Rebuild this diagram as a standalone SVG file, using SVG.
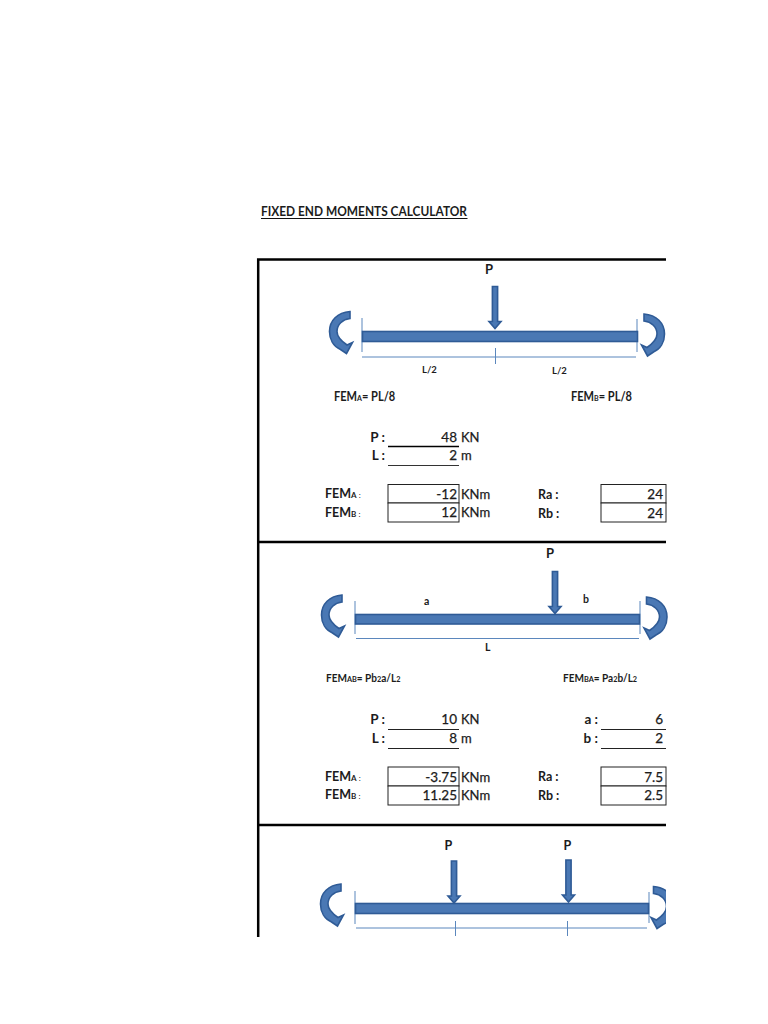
<svg xmlns="http://www.w3.org/2000/svg" width="768" height="1024" viewBox="0 0 768 1024">
<style>
text{font-family:"Lato","Open Sans","Liberation Sans",sans-serif;fill:#1c1c1c}
.t{font-size:13px;font-weight:700}
.f{font-size:12.500px;font-weight:700}
.f2{font-size:11px;font-weight:700}
.s{font-size:8px}
.d{font-size:9.500px;font-weight:700}
.e{font-size:10.500px;font-weight:700}
.v{font-size:13.500px;stroke:#1c1c1c;stroke-width:.25}
.u{font-size:13px;stroke:#1c1c1c;stroke-width:.25}
.w{font-weight:700;stroke:none}
.r{text-anchor:end}
.l{font-size:13px;font-weight:700}
.beam{fill:#4a78b4;stroke:#2f5b96;stroke-width:1.600}
.dim{stroke:#5b87bd;stroke-width:1;fill:none}
.frame{stroke:#000;stroke-width:2.500;fill:none}
.box{fill:#fff;stroke:#222;stroke-width:1}
.ul{stroke:#222;stroke-width:1}
</style>
<defs>
<path id="mom" class="beam" d="M20.500,0C8,1 0,9 0,20C0,28 4,35 11,38L17,42L23,31L17.500,33.500C11,29 7.500,25 7.500,20C7.500,13 13,8 20.500,7Z"/>
<path id="down" class="beam" d="M-2.600,0H2.600V35H6L0,42L-6,35H-2.600Z"/>
<clipPath id="pg"><rect x="0" y="0" width="666" height="937"/></clipPath>
</defs>
<rect width="768" height="1024" fill="#fff"/>

<g id="title">
<text x="261" y="215.500" class="t" textLength="206" lengthAdjust="spacingAndGlyphs">FIXED END MOMENTS CALCULATOR</text>
<line x1="261" y1="218.500" x2="467.500" y2="218.500" stroke="#111" stroke-width="1"/>
</g>

<g id="frame">
<path class="frame" d="M666,259.500H258.200V937"/>
<line class="frame" x1="258" y1="542" x2="666" y2="542"/>
<line class="frame" x1="258" y1="825" x2="666" y2="825"/>
</g>

<g id="connectors" clip-path="url(#pg)">
<g class="dim">
<path d="M362,318V352M637,319V352M362,357H636M495.500,348V364"/>
<path d="M355,601V634M640,601V634M356,638.500H639"/>
<path d="M355,891V924M649,892V923M356,928H647M455.500,921V936M567.500,921V936"/>
</g>
</g>

<g id="beam1">
<rect class="beam" x="362.500" y="331.500" width="275" height="10"/>
<use href="#down" x="495" y="286.500"/>
<use href="#mom" x="329.500" y="311.500"/>
<use href="#mom" transform="translate(664.500,314) scale(-1,1)"/>
</g>
<g id="beam2">
<rect class="beam" x="355.500" y="614.500" width="284" height="9.500"/>
<use href="#down" x="555" y="571.500"/>
<use href="#mom" x="321.500" y="595"/>
<use href="#mom" transform="translate(667,597) scale(-1,1)"/>
</g>
<g id="beam3" clip-path="url(#pg)">
<rect class="beam" x="355.500" y="903.500" width="293" height="10"/>
<use href="#down" x="454" y="861"/>
<use href="#down" x="568.500" y="860"/>
<use href="#mom" x="320.500" y="884"/>
<use href="#mom" transform="translate(674,886.500) scale(-1,1)"/>
</g>

<g id="panel1-labels">
<text x="485" y="274" class="l">P</text>
<text x="422" y="373" class="d">L/2</text>
<text x="552" y="374" class="d">L/2</text>
<text transform="translate(334,401) scale(.885,1)" class="f">FEM<tspan class="s">A</tspan>= PL/8</text>
<text transform="translate(571,401) scale(.885,1)" class="f">FEM<tspan class="s">B</tspan>= PL/8</text>
</g>
<g id="panel1-inputs">
<text x="385" y="442" class="v w r">P :</text>
<text x="385" y="460" class="v w r">L :</text>
<text x="457" y="442" class="v r">48</text>
<text x="457" y="460" class="v r">2</text>
<text x="461" y="442" class="u">KN</text>
<text x="461" y="460" class="u">m</text>
<line x1="388" y1="446.500" x2="459" y2="446.500" stroke="#000" stroke-width="1.600"/>
<line x1="388" y1="465.500" x2="459" y2="465.500" stroke="#333" stroke-width="1"/>
</g>
<g id="panel1-results">
<rect class="box" x="388" y="484.500" width="71" height="18.500"/>
<rect class="box" x="388" y="503" width="71" height="19"/>
<rect class="box" x="601" y="484.500" width="65" height="18.500"/>
<rect class="box" x="601" y="503" width="65" height="19"/>
<text x="325" y="498" class="f">FEM<tspan class="s">A</tspan><tspan class="s" font-weight="400"> :</tspan></text>
<text x="325" y="517" class="f">FEM<tspan class="s">B</tspan><tspan class="s" font-weight="400"> :</tspan></text>
<text x="457" y="499" class="v r">-12</text>
<text x="457" y="517" class="v r">12</text>
<text x="461" y="499" class="u">KNm</text>
<text x="461" y="517" class="u">KNm</text>
<text x="538" y="499" class="f">Ra :</text>
<text x="538" y="518" class="f">Rb :</text>
<text x="663" y="499" class="v r">24</text>
<text x="663" y="518" class="v r">24</text>
</g>

<g id="panel2-labels">
<text x="546" y="558" class="l">P</text>
<text x="424" y="605" class="e">a</text>
<text x="583" y="603" class="e">b</text>
<text x="485" y="651" class="e">L</text>
<text transform="translate(326,682) scale(.914,1)" class="f2">FEM<tspan class="s">AB</tspan>= Pb<tspan class="s">2</tspan>a/L<tspan class="s">2</tspan></text>
<text transform="translate(563,682) scale(.914,1)" class="f2">FEM<tspan class="s">BA</tspan>= Pa<tspan class="s">2</tspan>b/L<tspan class="s">2</tspan></text>
</g>
<g id="panel2-inputs">
<text x="385" y="724" class="v w r">P :</text>
<text x="385" y="743" class="v w r">L :</text>
<text x="457" y="724" class="v r">10</text>
<text x="457" y="743" class="v r">8</text>
<text x="461" y="724" class="u">KN</text>
<text x="461" y="743" class="u">m</text>
<line class="ul" x1="388" y1="729.500" x2="459" y2="729.500"/>
<line class="ul" x1="388" y1="748.500" x2="459" y2="748.500"/>
<text x="598" y="724" class="v w r">a :</text>
<text x="598" y="743" class="v w r">b :</text>
<text x="663" y="724" class="v r">6</text>
<text x="663" y="743" class="v r">2</text>
<line class="ul" x1="601" y1="729.500" x2="666" y2="729.500"/>
<line class="ul" x1="601" y1="748.500" x2="666" y2="748.500"/>
</g>
<g id="panel2-results">
<rect class="box" x="388" y="767" width="71" height="19"/>
<rect class="box" x="388" y="786" width="71" height="19"/>
<rect class="box" x="601" y="767" width="65" height="19"/>
<rect class="box" x="601" y="786" width="65" height="19"/>
<text x="325" y="781" class="f">FEM<tspan class="s">A</tspan><tspan class="s" font-weight="400"> :</tspan></text>
<text x="325" y="799" class="f">FEM<tspan class="s">B</tspan><tspan class="s" font-weight="400"> :</tspan></text>
<text x="457" y="782" class="v r">-3.75</text>
<text x="457" y="800" class="v r">11.25</text>
<text x="461" y="782" class="u">KNm</text>
<text x="461" y="800" class="u">KNm</text>
<text x="538" y="781" class="f">Ra :</text>
<text x="538" y="800" class="f">Rb :</text>
<text x="663" y="782" class="v r">7.5</text>
<text x="663" y="800" class="v r">2.5</text>
</g>

<g id="panel3-labels">
<text x="444.500" y="850" class="f">P</text>
<text x="563.500" y="850" class="f">P</text>
</g>
</svg>
